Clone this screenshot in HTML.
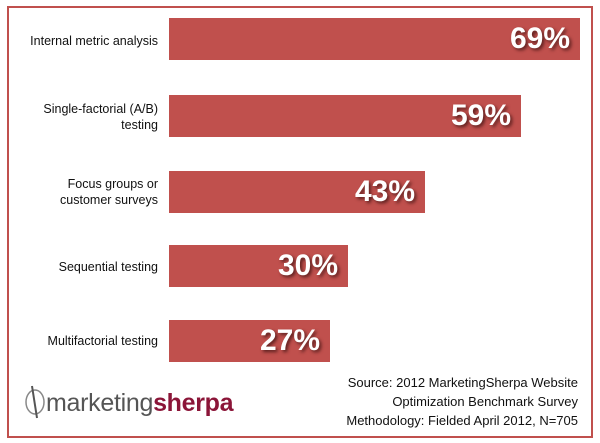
<!DOCTYPE html>
<html><head><style>
body{margin:0;width:600px;height:443px;background:#fff;position:relative;font-family:"Liberation Sans",sans-serif;overflow:hidden}
.frame{position:absolute;left:7px;top:6px;width:582px;height:428px;border:2px solid #c0504d}
.bar{position:absolute;left:169px;height:42px;background:#c0504d}
.pct{position:absolute;right:10px;top:4px;color:#fff;font-weight:bold;font-size:30px;text-shadow:2px 2px 3px #5a1f1e}
.lab{position:absolute;right:442px;font-size:12.5px;color:#111;text-align:right;line-height:16px}
.src{position:absolute;right:22px;top:373px;font-size:13px;text-align:right;line-height:19px;color:#111}
.logo{position:absolute;left:24px;top:384px;font-size:25px;color:#555;letter-spacing:-0.3px}
.logo b{color:#8b1538;font-weight:bold}
</style></head><body>
<div class="frame"></div>
<div class="lab" style="top:33px">Internal metric analysis</div>
<div class="bar" style="top:18px;width:411px"><span class="pct">69%</span></div>
<div class="lab" style="top:101px">Single-factorial (A/B)<br>testing</div>
<div class="bar" style="top:95px;width:352px"><span class="pct">59%</span></div>
<div class="lab" style="top:176px">Focus groups or<br>customer surveys</div>
<div class="bar" style="top:171px;width:256px"><span class="pct">43%</span></div>
<div class="lab" style="top:259px">Sequential testing</div>
<div class="bar" style="top:245px;width:179px"><span class="pct">30%</span></div>
<div class="lab" style="top:333px">Multifactorial testing</div>
<div class="bar" style="top:320px;width:161px"><span class="pct">27%</span></div>
<div class="logo"><svg width="22" height="36" style="vertical-align:-9px" viewBox="0 0 22 36"><ellipse cx="11" cy="18" rx="9" ry="12" fill="none" stroke="#888" stroke-width="1.5"/><path d="M8 2 L13 34" stroke="#555" stroke-width="2"/></svg>marketing<b>sherpa</b></div>
<div class="src">Source: 2012 MarketingSherpa Website<br>Optimization Benchmark Survey<br>Methodology: Fielded April 2012, N=705</div>
</body></html>
